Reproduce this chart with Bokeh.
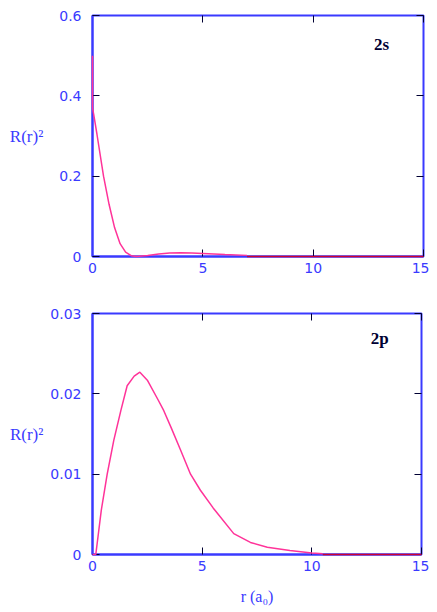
from bokeh.plotting import figure
from bokeh.layouts import column
from bokeh.models import LinearAxis, Label, FixedTicker, CustomLabelingPolicy
from bokeh.embed import file_html
from bokeh.resources import INLINE

# ---- data ----
r_2s = [0, 0, 0.05, 0.2, 0.5, 0.75, 1.0, 1.25, 1.5, 1.75, 2.0, 2.5, 3.0, 3.5, 4.0, 4.5, 5.0, 6.0, 7.0]
R2_2s = [0.5, 0.37, 0.355, 0.305, 0.2, 0.13, 0.072, 0.032, 0.011, 0.002, 0.0, 0.0025, 0.006, 0.0085, 0.0092, 0.0087, 0.0076, 0.005, 0.0028]
tail_2s_r = [7.0, 15.0]
tail_2s_v = [0.0, 0.0]

r_2p = [0, 0.15, 0.4, 0.67, 0.97, 1.3, 1.58, 1.9, 2.16, 2.5, 3.0, 3.25, 3.6, 4.0, 4.47, 4.92, 5.5, 6.44, 7.2, 7.97, 9.0, 10.0, 10.5]
R2_2p = [0, 0, 0.0055, 0.0100, 0.0142, 0.0180, 0.0210, 0.0222, 0.0227, 0.0217, 0.0192, 0.0179, 0.0157, 0.0131, 0.0100, 0.0080, 0.0058, 0.0026, 0.0015, 0.0009, 0.0005, 0.0002, 0.0001]
tail_2p_r = [10.5, 15.0]
tail_2p_v = [0.0, 0.0]

x_ticks = [0, 5, 10, 15]
y_ticks_2s = [0, 0.2, 0.4, 0.6]
y_ticks_2p = [0, 0.01, 0.02, 0.03]
y_labels_2s = {0: "0", 0.2: "0.2", 0.4: "0.4", 0.6: "0.6"}
y_labels_2p = {0: "0", 0.01: "0.01", 0.02: "0.02", 0.03: "0.03"}

BLUE = "#3a3aff"
PINK = "#ff3399"
RED = "#cc0033"
TICK = "#000033"

hide_all = CustomLabelingPolicy(code="return new Set()")


def style(p, yt, ylab, xlabel, ylabel_standoff):
    p.grid.visible = False
    p.outline_line_color = BLUE
    p.outline_line_width = 2
    p.background_fill_color = "white"
    p.border_fill_color = "white"
    for ax in p.xaxis + p.yaxis:
        ax.axis_line_color = BLUE
        ax.axis_line_width = 2
        ax.major_tick_in = 7
        ax.major_tick_out = 0
        ax.major_tick_line_color = TICK
        ax.minor_tick_line_color = None
        ax.major_label_text_color = BLUE
        ax.major_label_text_font = "DejaVu Sans"
        ax.major_label_text_font_size = "14px"
        ax.axis_label_text_color = BLUE
        ax.axis_label_text_font = "Liberation Serif"
        ax.axis_label_text_font_size = "17px"
        ax.axis_label_text_font_style = "normal"
    p.xaxis.ticker = FixedTicker(ticks=x_ticks)
    p.xaxis.major_label_standoff = 6
    p.yaxis.ticker = FixedTicker(ticks=yt)
    p.yaxis.major_label_overrides = ylab
    p.yaxis.major_label_standoff = 11
    p.yaxis.axis_label = "R(r)²"
    p.yaxis.axis_label_orientation = "horizontal"
    p.yaxis.axis_label_standoff = ylabel_standoff
    if xlabel:
        p.xaxis.axis_label = "r (a₀)"
        p.xaxis.axis_label_text_font_size = "16px"
        p.xaxis.axis_label_standoff = 14
    # mirrored ticks on top and right, without labels
    top = LinearAxis(ticker=FixedTicker(ticks=x_ticks))
    right = LinearAxis(ticker=FixedTicker(ticks=yt))
    for ax in (top, right):
        ax.axis_line_color = None
        ax.major_tick_in = 7
        ax.major_tick_out = 0
        ax.major_tick_line_color = TICK
        ax.minor_tick_line_color = None
        ax.major_label_policy = hide_all
        ax.major_label_text_font_size = "1px"
        ax.major_label_standoff = 0
    p.add_layout(top, "above")
    p.add_layout(right, "right")


p1 = figure(frame_width=331, frame_height=241, x_range=(0, 15), y_range=(0, 0.6),
            output_backend="svg", toolbar_location=None,
            min_border_left=92, min_border_right=6, min_border_top=15, min_border_bottom=30)
style(p1, y_ticks_2s, y_labels_2s, False, 13)
p1.line(r_2s, R2_2s, line_color=PINK, line_width=1.5, level="overlay")
p1.line(tail_2s_r, tail_2s_v, line_color=RED, line_width=1.5, level="overlay")
p1.add_layout(Label(x=13.1, y=0.528, text="2s", text_font="Liberation Serif",
                    text_font_style="bold", text_font_size="17px", text_color="#000033",
                    text_align="center", text_baseline="middle"))

p2 = figure(frame_width=329, frame_height=241, x_range=(0, 15), y_range=(0, 0.03),
            output_backend="svg", toolbar_location=None,
            min_border_left=92, min_border_right=8, min_border_top=27, min_border_bottom=50)
style(p2, y_ticks_2p, y_labels_2p, True, 4)
p2.line(r_2p, R2_2p, line_color=PINK, line_width=1.5, level="overlay")
p2.line(tail_2p_r, tail_2p_v, line_color=RED, line_width=1.5, level="overlay")
p2.add_layout(Label(x=13.1, y=0.0269, text="2p", text_font="Liberation Serif",
                    text_font_style="bold", text_font_size="17px", text_color="#000033",
                    text_align="center", text_baseline="middle"))

layout = column(p1, p2, spacing=0)
open("out.html", "w").write(file_html(layout, INLINE))
